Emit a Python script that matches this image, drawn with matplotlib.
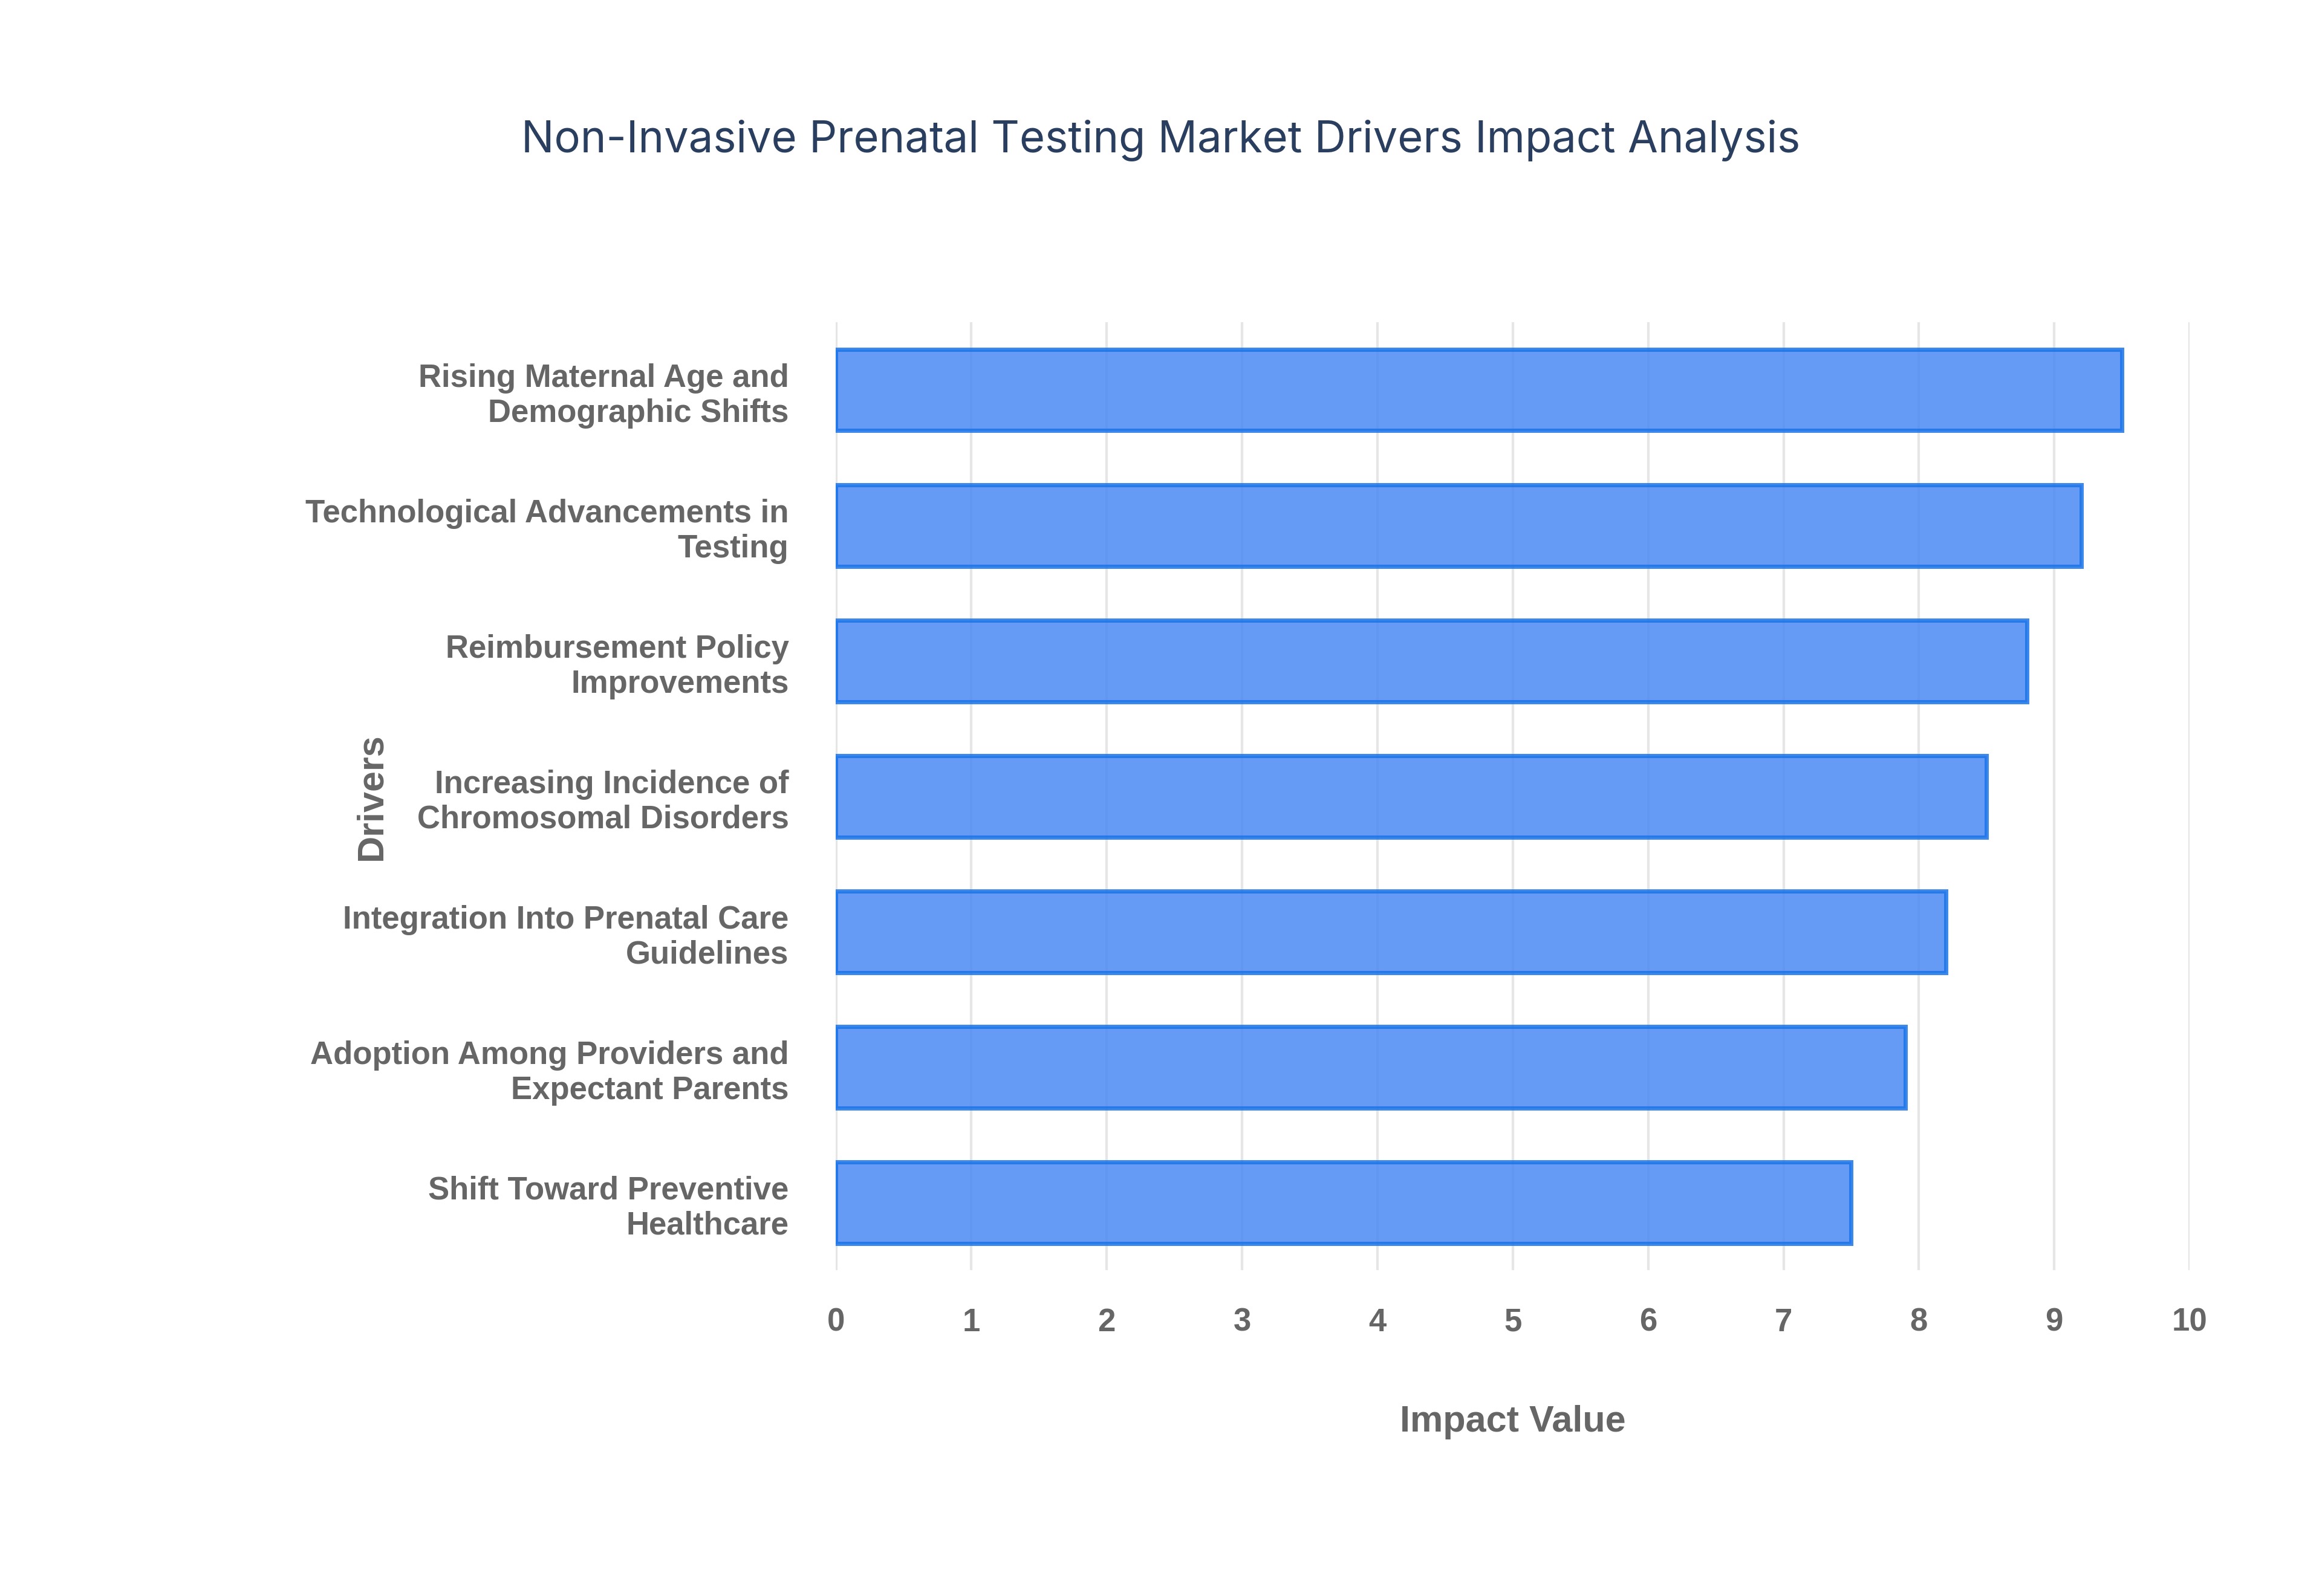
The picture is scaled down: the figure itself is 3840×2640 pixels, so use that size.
import matplotlib.pyplot as plt

drivers = [
    "Rising Maternal Age and\nDemographic Shifts",
    "Technological Advancements in\nTesting",
    "Reimbursement Policy\nImprovements",
    "Increasing Incidence of\nChromosomal Disorders",
    "Integration Into Prenatal Care\nGuidelines",
    "Adoption Among Providers and\nExpectant Parents",
    "Shift Toward Preventive\nHealthcare",
]
impact = [9.5, 9.2, 8.8, 8.5, 8.2, 7.9, 7.5]
xticks = list(range(0, 11))

fig = plt.figure(figsize=(19.2, 13.2), dpi=200)
ax = fig.add_axes([0.36, 0.204, 0.583, 0.594])

ypos = list(range(len(drivers)))[::-1]
ax.barh(ypos, impact, height=0.6, color="#4a8af4", alpha=0.85,
        edgecolor="#1a73e8", linewidth=2.5, zorder=3)

ax.set_xlim(0, 10)
ax.set_ylim(-0.5, len(drivers) - 0.5)
ax.set_xticks(xticks)
ax.set_yticks(ypos)
ax.set_yticklabels(drivers)
for lab in ax.get_yticklabels() + ax.get_xticklabels():
    lab.set_fontweight("bold")
    lab.set_color("#666666")
    lab.set_fontfamily("Liberation Sans")
ax.tick_params(axis="y", labelsize=19, length=0, pad=28)
ax.tick_params(axis="x", labelsize=19, length=0, pad=22)
ax.grid(axis="x", color="#e6e6e6", linewidth=1.5, zorder=0)
for s in ax.spines.values():
    s.set_visible(False)
ax.axvline(0, color="#dddddd", linewidth=2, zorder=1)

ax.set_xlabel("Impact Value", fontsize=22, fontweight="bold", color="#666666",
              family="Liberation Sans", labelpad=40)
ax.set_ylabel("Drivers", fontsize=22, fontweight="bold", color="#666666",
              family="Liberation Sans", labelpad=30)
ax.yaxis.set_label_coords(-0.33, 0.5)

fig.text(0.5, 0.912, "Non-Invasive Prenatal Testing Market Drivers Impact Analysis",
         ha="center", va="center", fontsize=26, color="#2a3f5f", family="Inter")

fig.savefig("out.png", dpi=200, facecolor="white")
